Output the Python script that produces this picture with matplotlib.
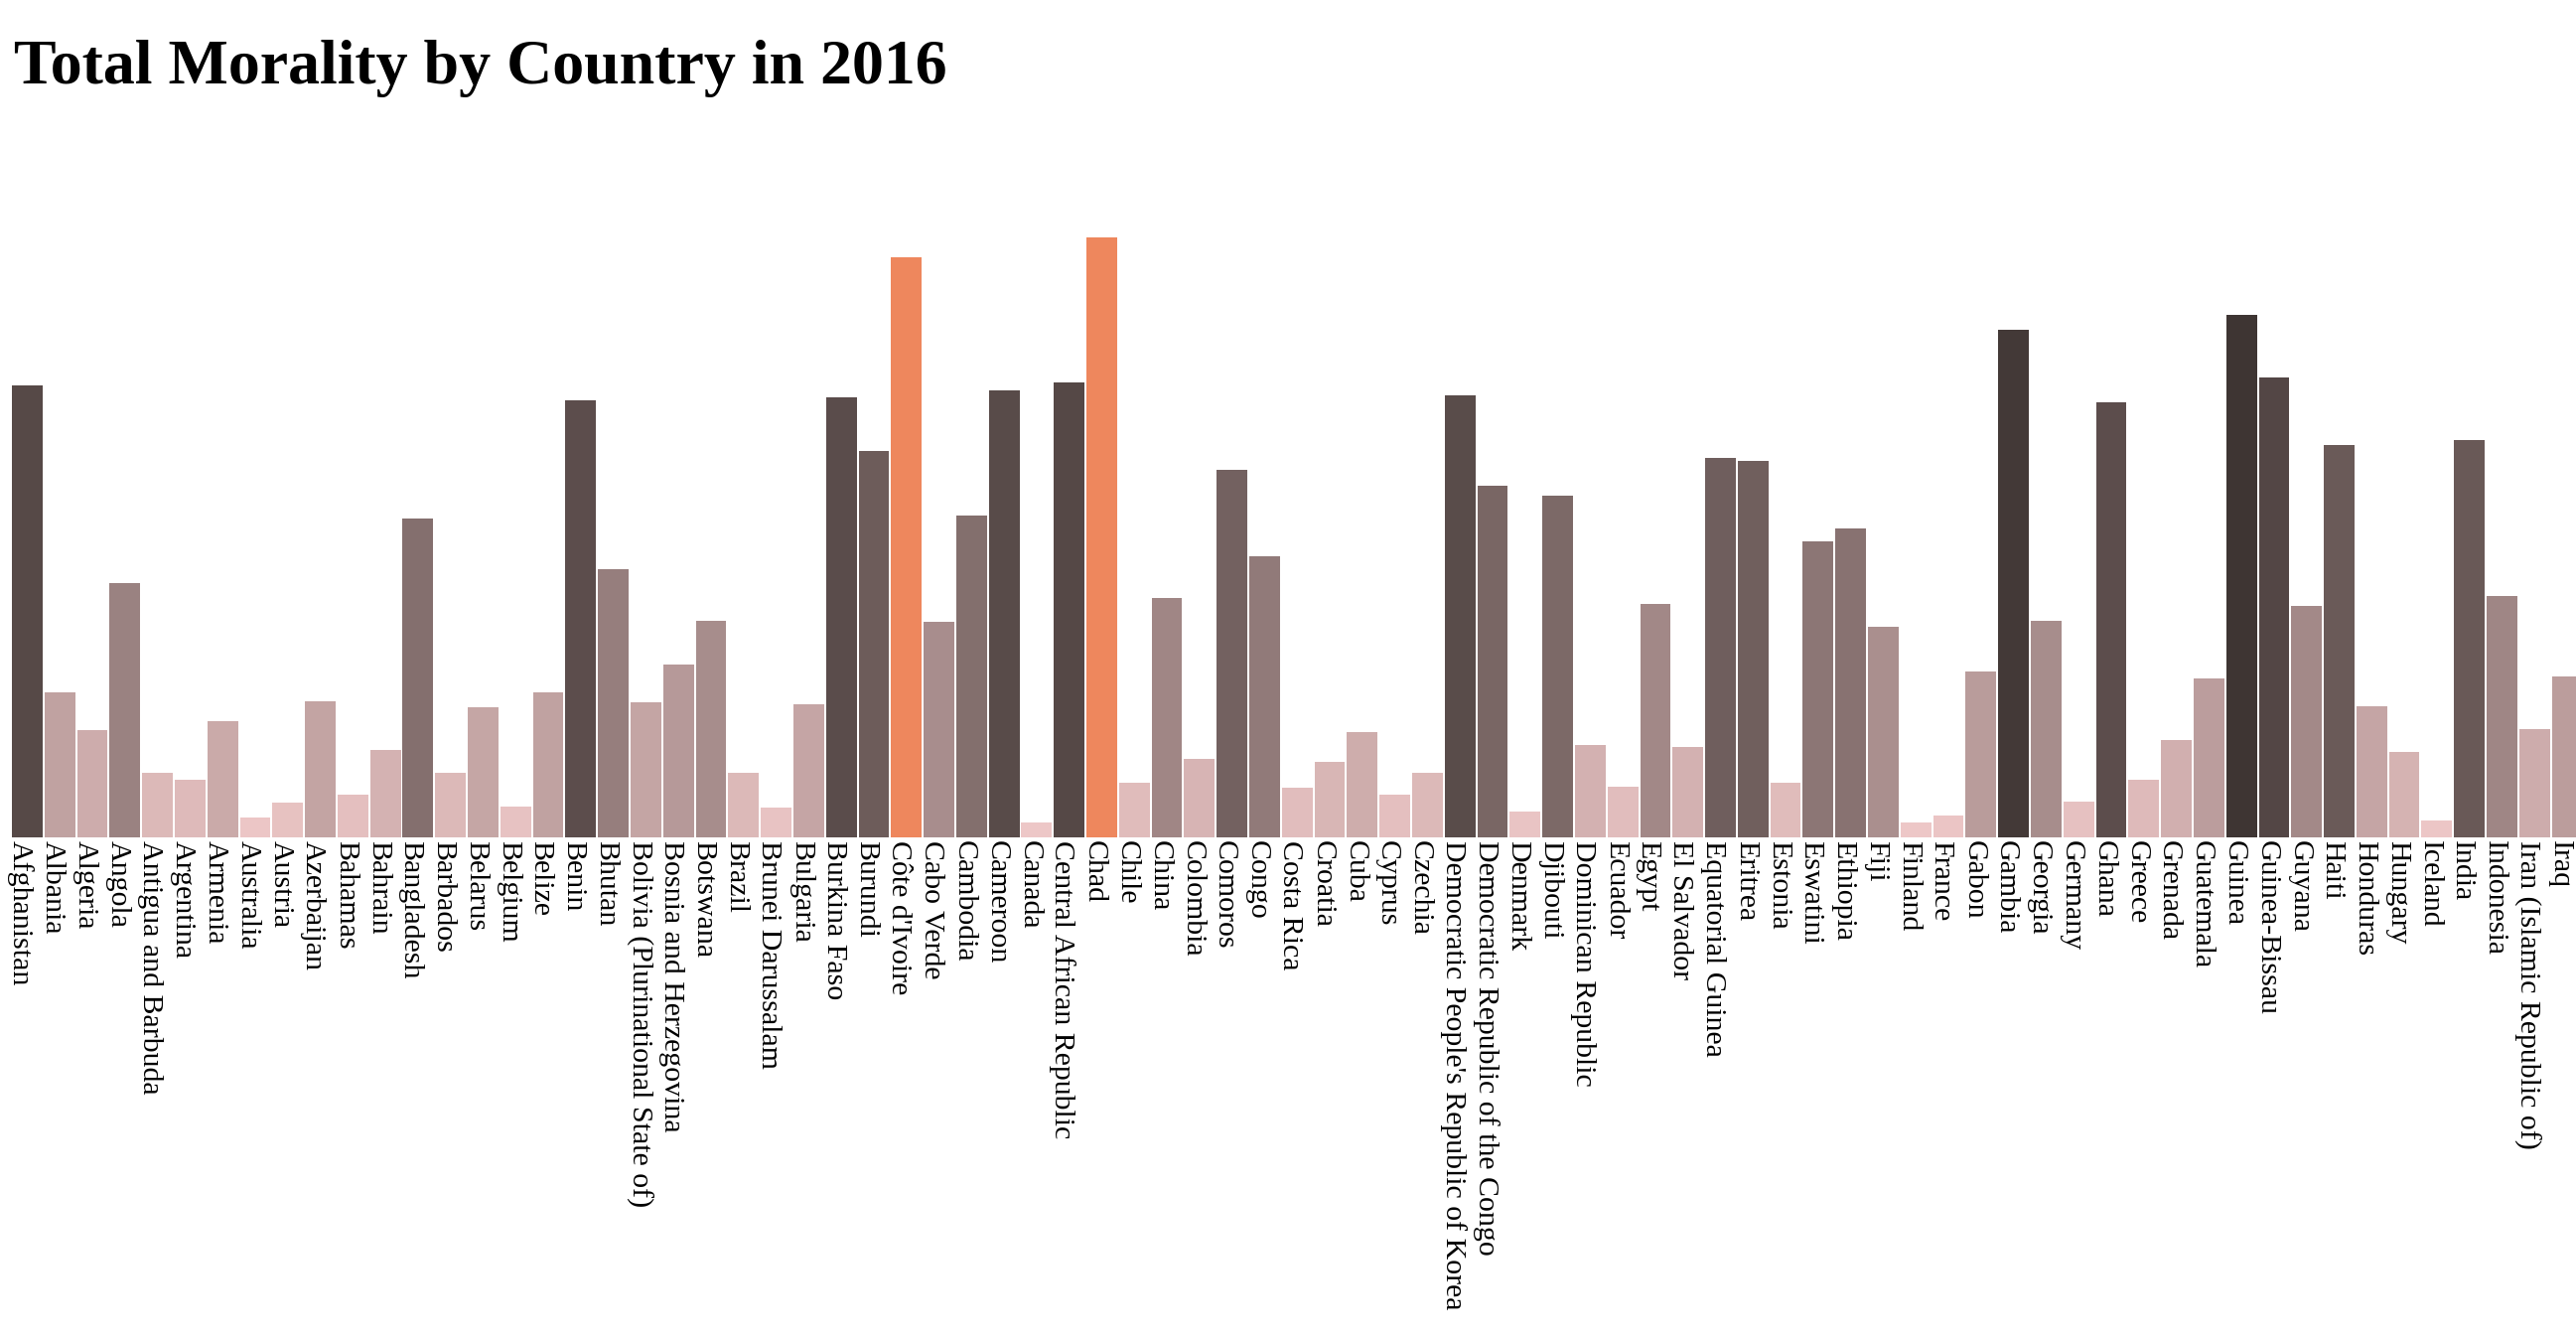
import numpy as np
import matplotlib
matplotlib.use("Agg")
import matplotlib.pyplot as plt
from matplotlib.colors import LinearSegmentedColormap, Normalize

# Countries shown (alphabetical, as in the source page)
countries = [
    "Afghanistan", "Albania", "Algeria", "Angola", "Antigua and Barbuda",
    "Argentina", "Armenia", "Australia", "Austria", "Azerbaijan",
    "Bahamas", "Bahrain", "Bangladesh", "Barbados", "Belarus",
    "Belgium", "Belize", "Benin", "Bhutan", "Bolivia (Plurinational State of)",
    "Bosnia and Herzegovina", "Botswana", "Brazil", "Brunei Darussalam", "Bulgaria",
    "Burkina Faso", "Burundi", "Côte d'Ivoire", "Cabo Verde", "Cambodia",
    "Cameroon", "Canada", "Central African Republic", "Chad", "Chile",
    "China", "Colombia", "Comoros", "Congo", "Costa Rica",
    "Croatia", "Cuba", "Cyprus", "Czechia", "Democratic People's Republic of Korea",
    "Democratic Republic of the Congo", "Denmark", "Djibouti", "Dominican Republic", "Ecuador",
    "Egypt", "El Salvador", "Equatorial Guinea", "Eritrea", "Estonia",
    "Eswatini", "Ethiopia", "Fiji", "Finland", "France",
    "Gabon", "Gambia", "Georgia", "Germany", "Ghana",
    "Greece", "Grenada", "Guatemala", "Guinea", "Guinea-Bissau",
    "Guyana", "Haiti", "Honduras", "Hungary", "Iceland",
    "India", "Indonesia", "Iran (Islamic Republic of)", "Iraq",
]

# Total mortality (no axis on the original)
mortality = [
    275, 88, 65, 155, 39,
    35, 71, 12, 21, 83,
    26, 53, 194, 39, 79,
    19, 88, 266, 163, 82,
    105, 132, 39, 18, 81,
    268, 235, 353, 131, 196,
    272, 9, 277, 365, 33,
    146, 48, 224, 171, 30,
    46, 64, 26, 39, 269,
    214, 16, 208, 56, 31,
    142, 55, 231, 229, 33,
    180, 188, 128, 9, 13,
    101, 309, 132, 22, 265,
    35, 59, 97, 318, 280,
    141, 239, 80, 52, 10,
    242, 147, 66, 98,
]

title = "Total Morality by Country in 2016"

# colour scale: light pink -> dark brown, anything above the top goes orange
low_color = "#f2cbcb"
high_color = "#3d3432"
over_color = "#ee875d"
scale_max = 320

W, H = 2594, 1348
fig = plt.figure(figsize=(W / 100, H / 100), dpi=100)

step_px = 32.79
base_px = 843
plot_h = 700
px_per_unit = 1.654

ax = fig.add_axes([12 / W, (H - base_px) / H, 1 - 12 / W, plot_h / H])
ax.set_xlim(0, (W - 12) / step_px)
ax.set_ylim(0, plot_h / px_per_unit)
ax.axis("off")

cmap = LinearSegmentedColormap.from_list("mort", [low_color, high_color])
cmap.set_over(over_color)
norm = Normalize(vmin=0, vmax=scale_max)

x = np.arange(len(countries))
vals = np.array(mortality)
colors = cmap(norm(vals))

ax.bar(x, vals, width=0.94, align="edge", color=colors, linewidth=0)

# rotated labels under each bar
for i, name in enumerate(countries):
    ax.text(i + 0.03, -3 / plot_h, name, rotation=-90, rotation_mode="anchor",
            ha="left", va="baseline", fontsize=21.5, family="Liberation Serif",
            transform=ax.get_xaxis_transform(), clip_on=False)

fig.text(14 / W, 1 - 84 / H, title, fontsize=46, fontweight="bold",
         family="Liberation Serif", ha="left", va="baseline")

fig.savefig("out.png", dpi=100, facecolor="white")
